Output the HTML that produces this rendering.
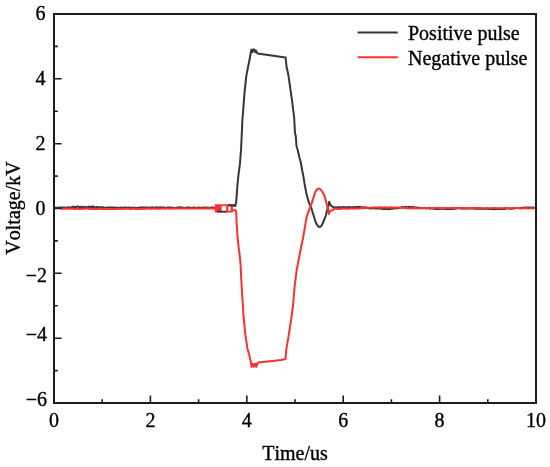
<!DOCTYPE html>
<html><head><meta charset="utf-8"><style>
html,body{margin:0;padding:0;background:#fff;}
body{width:550px;height:467px;overflow:hidden;}
svg{display:block;}
text{font-family:"Liberation Serif","Times New Roman",serif;font-size:20px;fill:#000;font-kerning:none;stroke:#000;stroke-width:0.35px;}
</style></head><body>
<svg width="550" height="467" viewBox="0 0 550 467">
<rect width="550" height="467" fill="#fff"/>
<polyline points="54.0,207.8 54.7,207.7 55.4,208.0 56.1,207.6 56.8,207.9 57.5,207.8 58.2,207.6 58.9,207.9 59.6,207.6 60.3,207.9 61.0,207.3 61.7,207.4 62.4,207.6 63.1,207.8 63.8,207.4 64.5,207.4 65.2,207.7 65.9,207.9 66.6,207.6 67.3,207.5 68.0,207.9 68.7,207.3 69.4,207.8 70.1,207.5 70.8,207.4 71.5,207.4 72.2,206.8 72.9,207.6 73.6,206.6 74.3,207.2 75.0,207.3 75.7,206.9 76.4,207.2 77.1,206.4 77.8,206.4 78.5,206.6 79.2,207.4 79.9,207.0 80.6,206.8 81.3,207.2 82.0,207.0 82.7,206.8 83.4,207.6 84.1,207.4 84.8,206.7 85.5,207.2 86.2,207.1 86.9,207.7 87.6,207.5 88.3,206.8 89.0,207.9 89.7,206.5 90.4,207.0 91.1,207.5 91.8,206.5 92.5,207.1 93.2,206.4 93.9,207.4 94.6,207.5 95.3,207.2 96.0,207.7 96.7,206.8 97.4,207.4 98.1,207.3 98.8,207.2 99.5,207.0 100.2,207.6 100.9,207.8 101.6,207.1 102.3,207.4 103.0,207.3 103.7,207.7 104.4,207.7 105.1,207.9 105.8,207.8 106.5,207.5 107.2,207.6 107.9,207.8 108.6,207.4 109.3,207.7 110.0,207.5 110.7,207.5 111.4,207.4 112.1,207.9 112.8,207.5 113.5,207.6 114.2,207.6 114.9,207.9 115.6,207.5 116.3,207.7 117.0,207.7 117.7,207.9 118.4,207.9 119.1,207.9 119.8,207.6 120.5,207.7 121.2,207.6 121.9,207.9 122.6,208.0 123.3,207.5 124.0,207.5 124.7,207.6 125.4,207.6 126.1,207.7 126.8,207.8 127.5,207.6 128.2,207.4 128.9,207.7 129.6,207.6 130.3,207.8 131.0,208.0 131.7,207.8 132.4,207.7 133.1,207.8 133.8,207.8 134.5,207.5 135.2,208.0 135.9,207.9 136.6,208.0 137.3,207.9 138.0,207.7 138.7,207.7 139.4,207.5 140.1,207.8 140.8,207.5 141.5,207.5 142.2,207.6 142.9,207.5 143.6,207.6 144.3,207.5 145.0,207.4 145.7,207.5 146.4,207.5 147.1,207.7 147.8,207.5 148.5,208.0 149.2,207.8 149.9,207.5 150.6,207.4 151.3,207.5 152.0,207.5 152.7,207.3 153.4,207.9 154.1,208.0 154.8,207.6 155.5,207.6 156.2,207.3 156.9,207.3 157.6,207.5 158.3,207.5 159.0,207.9 159.7,207.4 160.4,207.3 161.1,208.0 161.8,207.7 162.5,207.4 163.2,207.7 163.9,207.3 164.6,207.7 165.3,208.0 166.0,207.9 166.7,207.8 167.4,207.5 168.1,207.5 168.8,207.4 169.5,207.9 170.2,207.7 170.9,207.9 171.6,207.5 172.3,207.4 173.0,207.9 173.7,208.0 174.4,207.9 175.1,207.9 175.8,207.9 176.5,207.9 177.2,207.4 177.9,207.7 178.6,207.5 179.3,207.3 180.0,207.3 180.7,207.5 181.4,207.5 182.1,207.8 182.8,208.0 183.5,207.6 184.2,208.0 184.9,208.1 185.6,208.0 186.3,207.6 187.0,207.4 187.7,207.5 188.4,207.4 189.1,207.4 189.8,207.8 190.5,208.0 191.2,207.9 191.9,207.7 192.6,207.8 193.3,207.9 194.0,207.3 194.7,207.8 195.4,208.0 196.1,207.9 196.8,207.9 197.5,207.7 198.2,207.4 198.9,207.9 199.6,207.6 200.3,207.9 201.0,208.1 201.7,207.6 202.4,207.6 203.1,208.0 203.8,207.9 204.5,207.4 205.2,207.4 205.9,207.4 206.6,208.0 207.3,207.9 208.0,207.4 208.7,208.0 209.4,208.1 210.1,207.8 210.8,207.6 211.5,207.7 212.2,207.4 212.9,207.3 213.6,208.1 233.0,205.4 235.3,206.0 236.1,202.6 236.6,196.8 237.6,183.4 238.6,173.8 239.9,164.2 241.1,148.8 242.4,120.0 243.2,110.1 244.2,96.4 245.4,84.4 246.3,75.9 248.0,67.3 249.7,58.7 250.9,52.0 251.5,49.6 252.4,52.2 253.2,49.6 254.4,49.6 255.2,52.2 256.0,50.6 257.5,53.5 285.6,57.6 286.5,66.2 288.5,75.8 290.4,89.2 292.3,102.7 294.2,118.0 295.0,133.0 295.8,136.0 296.5,146.0 297.6,149.5 299.5,158.0 300.6,161.5 302.3,171.0 303.2,175.2 304.6,184.0 305.7,190.0 306.5,194.1 308.8,202.4 311.2,207.6 313.5,215.3 315.9,222.9 318.2,226.5 320.0,227.0 321.8,225.3 324.1,220.0 325.9,215.3 327.6,208.2 329.2,201.8 330.6,205.3 332.5,206.6 334.0,207.4 335.0,207.2 336.5,207.6 338.0,207.3 339.5,207.3 341.0,207.4 342.5,207.1 344.0,207.2 345.5,207.2 347.0,207.4 348.5,206.9 350.0,207.2 351.5,207.2 353.0,207.2 354.5,207.1 356.0,207.1 357.5,206.9 359.0,207.0 360.5,207.0 362.0,207.4 363.5,207.3 365.0,207.4 366.5,207.5 368.0,208.2 369.5,208.3 371.0,208.4 372.5,208.3 374.0,208.3 375.5,208.4 377.0,208.5 378.5,208.4 380.0,208.6 381.5,208.6 383.0,209.0 384.5,209.1 386.0,208.9 387.5,208.8 389.0,209.2 390.5,208.8 392.0,208.7 393.5,208.4 395.0,208.4 396.5,208.3 398.0,208.2 399.5,207.7 401.0,207.5 402.5,207.0 404.0,207.2 405.5,207.1 407.0,207.2 408.5,207.0 410.0,207.0 411.5,207.2 413.0,207.1 414.5,207.4 416.0,207.4 417.5,207.7 419.0,207.8 420.5,207.9 422.0,208.2 423.5,208.0 425.0,208.1 426.5,208.6 428.0,208.1 429.5,208.5 431.0,208.5 432.5,208.2 434.0,208.8 435.5,208.9 437.0,208.8 438.5,208.9 440.0,209.0 441.5,208.6 443.0,208.8 444.5,208.7 446.0,208.9 447.5,208.9 449.0,208.9 450.5,208.7 452.0,208.9 453.5,208.7 455.0,208.7 456.5,208.4 458.0,208.3 459.5,208.3 461.0,208.5 462.5,208.3 464.0,208.7 465.5,208.6 467.0,208.6 468.5,208.6 470.0,208.6 471.5,208.5 473.0,208.3 474.5,208.8 476.0,208.8 477.5,208.7 479.0,208.7 480.5,208.8 482.0,208.5 483.5,208.9 485.0,208.7 486.5,208.6 488.0,208.7 489.5,209.0 491.0,208.7 492.5,209.0 494.0,209.2 495.5,208.9 497.0,208.8 498.5,208.9 500.0,209.0 501.5,209.1 503.0,209.0 504.5,209.0 506.0,208.6 507.5,208.6 509.0,208.5 510.5,208.7 512.0,208.4 513.5,208.5 515.0,208.1 516.5,208.0 518.0,208.1 519.5,208.2 521.0,208.1 522.5,207.9 524.0,207.6 525.5,207.6 527.0,207.6 528.5,207.6 530.0,207.4 531.5,207.8 533.0,207.4 534.5,207.9 536.0,207.9" fill="none" stroke="#363636" stroke-width="2" stroke-linejoin="round"/>
<polyline points="61.0,208.7 62.0,208.7 63.0,208.8 64.0,208.7 65.0,208.8 66.0,208.8 67.0,208.6 68.0,208.7 69.0,208.7 70.0,208.6 71.0,208.8 72.0,208.6 73.0,208.7 74.0,208.5 75.0,209.1 76.0,208.7 77.0,208.8 78.0,208.8 79.0,209.1 80.0,208.7 81.0,209.1 82.0,208.8 83.0,208.8 84.0,208.8 85.0,208.5 86.0,208.8 87.0,208.6 88.0,208.5 89.0,209.1 90.0,208.6 91.0,208.8 92.0,209.0 93.0,208.9 94.0,208.7 95.0,208.9 96.0,208.9 97.0,209.1 98.0,208.6 99.0,208.9 100.0,208.7 101.0,208.7 102.0,209.1 103.0,208.9 104.0,208.9 105.0,209.1 106.0,209.0 107.0,208.9 108.0,208.9 109.0,208.9 110.0,208.9 111.0,208.9 112.0,208.8 113.0,208.9 114.0,208.8 115.0,209.0 116.0,208.9 117.0,208.9 118.0,209.0 119.0,208.8 120.0,208.8 121.0,208.9 122.0,208.9 123.0,208.7 124.0,208.7 125.0,208.8 126.0,208.7 127.0,208.7 128.0,208.7 129.0,208.8 130.0,208.9 131.0,208.9 132.0,208.7 133.0,208.8 134.0,208.8 135.0,208.7 136.0,208.9 137.0,208.9 138.0,208.7 139.0,208.9 140.0,208.7 141.0,208.7 142.0,208.9 143.0,208.8 144.0,208.6 145.0,208.7 146.0,208.7 147.0,208.7 148.0,208.6 149.0,208.6 150.0,208.8 151.0,208.6 152.0,208.7 153.0,208.7 154.0,208.5 155.0,208.6 156.0,208.7 157.0,208.7 158.0,208.5 159.0,208.8 160.0,208.7 161.0,208.8 162.0,208.5 163.0,208.6 164.0,208.5 165.0,208.7 166.0,208.6 167.0,208.5 168.0,208.6 169.0,208.7 170.0,208.7 171.0,208.5 172.0,208.5 173.0,208.7 174.0,208.6 175.0,208.6 176.0,208.5 177.0,208.4 178.0,208.6 179.0,208.5 180.0,208.4 181.0,208.7 182.0,208.6 183.0,208.6 184.0,208.4 185.0,208.6 186.0,208.4 187.0,208.6 188.0,208.5 189.0,208.5 190.0,208.5 191.0,208.6 192.0,208.4 193.0,208.4 194.0,208.5 195.0,208.4 196.0,208.4 197.0,208.4 198.0,208.3 199.0,208.4 200.0,208.4 201.0,208.4 202.0,208.5 203.0,208.4 204.0,208.5 205.0,208.3 206.0,208.4 207.0,208.3 208.0,208.4 209.0,208.3 210.0,208.5 211.0,208.4 212.0,208.3 213.0,208.4 214.0,208.5 233.3,210.2 235.7,210.3 236.2,212.0 236.7,224.3 237.6,237.1 238.5,246.1 239.8,256.3 240.6,265.0 241.3,280.6 242.5,299.8 243.6,317.1 245.3,334.2 247.3,347.9 249.5,356.0 250.8,362.0 251.6,366.8 252.8,363.6 254.0,366.8 255.2,363.6 256.4,366.8 257.4,363.4 258.4,362.6 281.2,359.9 285.5,359.0 286.3,349.6 288.9,334.2 291.5,317.1 293.1,305.0 294.6,286.3 296.8,269.2 298.9,258.5 301.0,247.8 303.2,237.1 306.5,217.6 308.8,210.6 311.2,204.7 313.5,197.6 315.3,191.8 317.6,188.8 320.0,188.8 322.4,191.8 324.7,196.5 326.5,203.5 328.2,209.4 328.8,214.1 330.0,211.2 332.9,210.0 334.0,208.8 335.0,208.6 336.5,208.8 338.0,208.9 339.5,208.9 341.0,208.7 342.5,208.6 344.0,208.6 345.5,208.8 347.0,208.5 348.5,208.7 350.0,208.5 351.5,208.6 353.0,208.7 354.5,208.3 356.0,208.5 357.5,208.4 359.0,208.5 360.5,208.3 362.0,208.1 363.5,208.3 365.0,208.0 366.5,207.8 368.0,207.7 369.5,207.8 371.0,207.7 372.5,207.6 374.0,207.4 375.5,207.4 377.0,207.4 378.5,207.6 380.0,207.3 381.5,207.6 383.0,207.6 384.5,207.3 386.0,207.6 387.5,207.5 389.0,207.6 390.5,207.3 392.0,207.4 393.5,207.4 395.0,207.7 396.5,207.6 398.0,207.5 399.5,207.7 401.0,207.7 402.5,207.7 404.0,207.8 405.5,208.2 407.0,208.0 408.5,208.4 410.0,208.2 411.5,208.2 413.0,208.3 414.5,208.1 416.0,208.2 417.5,208.4 419.0,208.3 420.5,208.3 422.0,208.2 423.5,208.3 425.0,208.3 426.5,208.1 428.0,208.1 429.5,207.8 431.0,208.1 432.5,208.0 434.0,208.1 435.5,208.1 437.0,207.9 438.5,207.8 440.0,208.2 441.5,207.9 443.0,208.0 444.5,207.9 446.0,207.9 447.5,208.1 449.0,208.2 450.5,207.9 452.0,208.1 453.5,207.9 455.0,208.0 456.5,208.0 458.0,207.9 459.5,207.9 461.0,207.9 462.5,208.2 464.0,208.0 465.5,207.9 467.0,208.2 468.5,208.2 470.0,208.0 471.5,207.9 473.0,208.0 474.5,207.9 476.0,208.0 477.5,207.9 479.0,208.0 480.5,208.0 482.0,208.2 483.5,208.3 485.0,208.3 486.5,208.1 488.0,208.2 489.5,208.2 491.0,208.2 492.5,208.1 494.0,208.0 495.5,208.1 497.0,208.4 498.5,208.1 500.0,208.2 501.5,208.3 503.0,208.3 504.5,208.1 506.0,208.1 507.5,208.1 509.0,208.2 510.5,208.2 512.0,208.4 513.5,208.3 515.0,208.3 516.5,208.0 518.0,208.0 519.5,208.3 521.0,208.4 522.5,208.2 524.0,208.2 525.5,208.0 527.0,208.2 528.5,208.4 530.0,208.3 531.5,208.3 533.0,208.4 534.5,208.1 536.0,208.0" fill="none" stroke="#ff3030" stroke-width="2" stroke-linejoin="round"/>
<rect x="214.8" y="204.3" width="18.1" height="8.2" fill="#ff3030"/>
<rect x="217.1" y="210.6" width="9.4" height="1.9" fill="#363636"/>
<rect x="228" y="204.3" width="7.5" height="2" fill="#363636"/>
<rect x="221.7" y="206.1" width="4.5" height="4.6" fill="#fff"/>
<rect x="228.3" y="206.6" width="2.3" height="4.2" fill="#fff"/>
<rect x="54.0" y="14.0" width="482.0" height="389.0" fill="none" stroke="#1c1c1c" stroke-width="2"/>
<path d="M102.2,403.0V399.2M150.4,403.0V395.4M198.6,403.0V399.2M246.8,403.0V395.4M295.0,403.0V399.2M343.2,403.0V395.4M391.4,403.0V399.2M439.6,403.0V395.4M487.8,403.0V399.2M54.0,370.6H57.8M54.0,338.2H61.6M54.0,305.8H57.8M54.0,273.3H61.6M54.0,240.9H57.8M54.0,208.5H61.6M54.0,176.1H57.8M54.0,143.7H61.6M54.0,111.2H57.8M54.0,78.8H61.6M54.0,46.4H57.8" stroke="#1c1c1c" stroke-width="1.6" fill="none"/>
<text x="54.0" y="427" text-anchor="middle">0</text>
<text x="150.4" y="427" text-anchor="middle">2</text>
<text x="246.8" y="427" text-anchor="middle">4</text>
<text x="343.2" y="427" text-anchor="middle">6</text>
<text x="439.6" y="427" text-anchor="middle">8</text>
<text x="536.0" y="427" text-anchor="middle">10</text>
<text x="47.0" y="406.0" text-anchor="end">−6</text>
<text x="47.0" y="341.2" text-anchor="end">−4</text>
<text x="47.0" y="281.7" text-anchor="end">−2</text>
<text x="45.5" y="215.1" text-anchor="end">0</text>
<text x="45.5" y="150.3" text-anchor="end">2</text>
<text x="45.5" y="85.4" text-anchor="end">4</text>
<text x="45.5" y="20.1" text-anchor="end">6</text>
<text x="295" y="460" text-anchor="middle">Time/us</text>
<text transform="translate(19.8,208) rotate(-90)" text-anchor="middle">Voltage/kV</text>
<line x1="357.6" y1="32.5" x2="397.7" y2="32.5" stroke="#363636" stroke-width="2"/>
<line x1="357.6" y1="57.2" x2="397.7" y2="57.2" stroke="#ff3030" stroke-width="2"/>
<text x="408" y="40.3">Positive pulse</text>
<text x="408" y="65.2">Negative pulse</text>
</svg>
</body></html>
